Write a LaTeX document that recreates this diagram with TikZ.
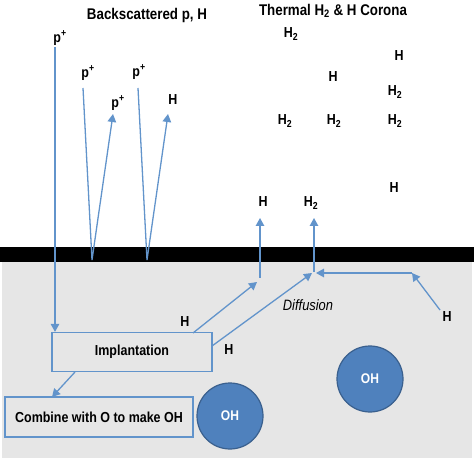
\documentclass[tikz,border=0pt]{standalone}
\usepackage{fontspec}
\setmainfont{Liberation Sans}[FakeStretch=0.86]
\usetikzlibrary{arrows.meta}
\definecolor{arrowblue}{RGB}{98,148,203}
\definecolor{ohfill}{RGB}{79,129,189}
\definecolor{ohdraw}{RGB}{58,96,142}
\definecolor{bggrey}{RGB}{230,230,230}
\tikzset{
  flow/.style={draw=arrowblue, line width=1.3pt, -{Triangle[length=8pt,width=8.5pt]}},
  lbl/.style={font=\bfseries\fontsize{14.5}{17}\selectfont, inner sep=0pt},
  ttl/.style={font=\bfseries\fontsize{15.5}{18}\selectfont, inner sep=0pt},
  boxnode/.style={draw=arrowblue, line width=1.2pt, fill=bggrey, font=\bfseries\fontsize{14.5}{17}\selectfont, inner sep=0pt},
  ohnode/.style={circle, draw=ohdraw, line width=1.2pt, fill=ohfill, text=white, font=\bfseries\fontsize{14}{16}\selectfont, minimum size=66pt, inner sep=0pt},
}
\begin{document}
\begin{tikzpicture}[x=1pt,y=-1pt]
\useasboundingbox (0,0) rectangle (474,462);
% ground
\fill[bggrey] (2,262) rectangle (472,458);
\fill[black] (0,247) rectangle (474,262);
% titles
\node[ttl] (t1) at (147,15) {Backscattered p, H};
\node[ttl] (t2) at (333,11) {Thermal H\textsubscript{2} \& H Corona};
% p+ labels
\node[lbl] (p1) at (60,38) {p\textsuperscript{+}};
\node[lbl] (p2) at (88,73) {p\textsuperscript{+}};
\node[lbl] (p3) at (118,103) {p\textsuperscript{+}};
\node[lbl] (p4) at (139,72) {p\textsuperscript{+}};
\node[lbl] (h1) at (173,100) {H};
% corona labels
\node[lbl] (c1) at (291,34) {H\textsubscript{2}};
\node[lbl] (c2) at (399,56) {H};
\node[lbl] (c3) at (333,77) {H};
\node[lbl] (c4) at (395,92) {H\textsubscript{2}};
\node[lbl] (c5) at (285,121) {H\textsubscript{2}};
\node[lbl] (c6) at (334,121) {H\textsubscript{2}};
\node[lbl] (c7) at (395,121) {H\textsubscript{2}};
\node[lbl] (c8) at (394,188) {H};
\node[lbl] (c9) at (263,202) {H};
\node[lbl] (c10) at (311,203) {H\textsubscript{2}};
% boxes
\node[boxnode, minimum width=160pt, minimum height=39pt] (imp) at (132,352) {Implantation};
\node[boxnode, minimum width=188pt, minimum height=40pt] (comb) at (99,417) {Combine with O to make OH};
% OH circles
\node[ohnode] (oh1) at (230,416) {OH};
\node[ohnode] (oh2) at (370,379) {OH};
% other labels
\node[lbl] (hi1) at (185,322) {H};
\node[lbl] (hi2) at (229,350) {H};
\node[lbl] (hr) at (447,317) {H};
\node[font=\itshape\fontsize{15}{17}\selectfont, inner sep=0pt] (diff) at (308,305) {Diffusion};
% coordinates
\coordinate (s1) at (55,47);
\coordinate (s2) at (83,88);
\coordinate (v2) at (92,260);
\coordinate (e2) at (113,114);
\coordinate (s3) at (138,88);
\coordinate (v3) at (147,260);
\coordinate (e3) at (168,114);
\coordinate (u1) at (260,278);
\coordinate (u1e) at (260,218);
\coordinate (u2) at (314,272);
\coordinate (u2e) at (314,218);
\coordinate (dtip) at (312,273);
\coordinate (htip) at (316,273);
\coordinate (hmid) at (412,273);
\coordinate (hs) at (440,310);
\coordinate (i1) at (193,333);
\coordinate (i1e) at (257,282);
\coordinate (i2) at (212,346);
\coordinate (cb) at (75,372);
\coordinate (ct) at (52,397);
% connectors
\draw[flow] (s1) -- (s1 |- imp.north);
\draw[flow] (s2) -- (v2) -- (e2);
\draw[flow] (s3) -- (v3) -- (e3);
\draw[flow] (u1) -- (u1e);
\draw[flow] (u2) -- (u2e);
\draw[flow] (i1) -- (i1e);
\draw[flow] (i2) -- (dtip);
\draw[flow] (hmid) -- (htip);
\draw[flow] (hs) -- (hmid);
\draw[flow] (cb) -- (ct);
\end{tikzpicture}
\end{document}
